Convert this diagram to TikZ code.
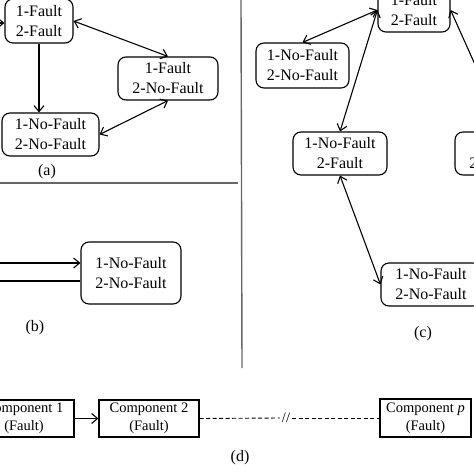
\documentclass[tikz,border=0pt]{standalone}
\usepackage{fontspec}
\setmainfont{Liberation Serif}
\usetikzlibrary{arrows.meta,calc}
\begin{document}
\begin{tikzpicture}[x=1pt,y=-1pt,
 state/.style={draw, rounded corners=8pt, line width=1.1pt, align=center, inner sep=0pt, font=\fontsize{16}{20}\selectfont},
 comp/.style={draw, line width=1.1pt, align=center, inner sep=0pt, font=\fontsize{14.5}{18}\selectfont},
 conn/.style={line width=1.1pt, -{Straight Barb[length=6pt,width=10pt]}},
 biconn/.style={line width=1.1pt, {Straight Barb[length=6pt,width=10pt]}-{Straight Barb[length=6pt,width=10pt]}},
 sep/.style={draw=black!60, line width=1.4pt},
 lab/.style={font=\fontsize{16}{20}\selectfont, inner sep=0pt}]
\useasboundingbox (0,0) rectangle (474,474);
\clip (0,0) rectangle (474,474);
% separators
\coordinate (h1) at (0,183);
\coordinate (h2) at (238,183);
\coordinate (v1) at (241,0);
\coordinate (v2) at (242,368);
\draw[sep] (h1) -- (h2);
\draw[sep] (v1) -- (v2);
% (a)
\node[state, minimum width=68pt, minimum height=44pt] (A1) at (39,21) {1-Fault\\2-Fault};
\node[state, minimum width=100pt, minimum height=43pt] (A2) at (168,78.5) {1-Fault\\2-No-Fault};
\node[state, minimum width=97pt, minimum height=43pt] (A3) at (50.5,134.5) {1-No-Fault\\2-No-Fault};
\coordinate (ain) at (-20,23);
\draw[conn] (ain) -- (A1.west |- ain);
\draw[biconn] (A1.east) -- (A2.north);
\draw[conn] (A1.south) -- (A1.south |- A3.north);
\draw[biconn] (A2.south) -- (A3.east);
\node[lab] (la) at (47,172) {(a)};
% (b)
\node[state, minimum width=100pt, minimum height=62pt] (B1) at (131,273) {1-No-Fault\\2-No-Fault};
\coordinate (bin) at (-20,263);
\coordinate (bout) at (-20,281);
\draw[conn] (bin) -- (B1.west |- bin);
\draw[line width=1.1pt] (B1.west |- bout) -- (bout);
\node[lab] (lb) at (35,328) {(b)};
% (c)
\node[state, minimum width=72pt, minimum height=44pt] (C1) at (414,10) {1-Fault\\2-Fault};
\node[state, minimum width=93pt, minimum height=45pt] (C2) at (302.5,65.5) {1-No-Fault\\2-No-Fault};
\node[state, minimum width=94pt, minimum height=43pt] (C3) at (340,153.5) {1-No-Fault\\2-Fault};
\node[state, minimum width=100pt, minimum height=43pt] (C4) at (431,284.5) {1-No-Fault\\2-No-Fault};
\node[state, minimum width=100pt, minimum height=43pt] (C5) at (505,153.5) {1-Fault\\2-No-Fault};
\draw[biconn] (C1.west) -- (C2.north);
\draw[biconn] (C1.west) -- (C3.north);
\draw[biconn] (C1.east) -- (C5.north);
\draw[biconn] (C3.south) -- (C4.west);
\node[lab] (lc) at (423,334) {(c)};
% (d)
\node[comp, minimum width=100pt, minimum height=37pt] (D1) at (24,418.5) {Component 1\\(Fault)};
\node[comp, minimum width=100pt, minimum height=37pt] (D2) at (149,418.5) {Component 2\\(Fault)};
\node[comp, minimum width=91pt, minimum height=38pt] (D3) at (425.5,418) {Component \textit{p}\\(Fault)};
\node[font=\fontsize{14.5}{18}\selectfont, inner sep=2pt] (brk) at (286,418) {//};
\draw[conn] (D1.east) -- (D2.west);
\draw[line width=0.9pt, dash pattern=on 4pt off 2.5pt] (D2.east) -- (brk.west);
\draw[line width=0.9pt, dash pattern=on 4pt off 2.5pt] (brk.east) -- (D3.west);
\node[lab] (ld) at (240,458) {(d)};
\end{tikzpicture}
\end{document}
